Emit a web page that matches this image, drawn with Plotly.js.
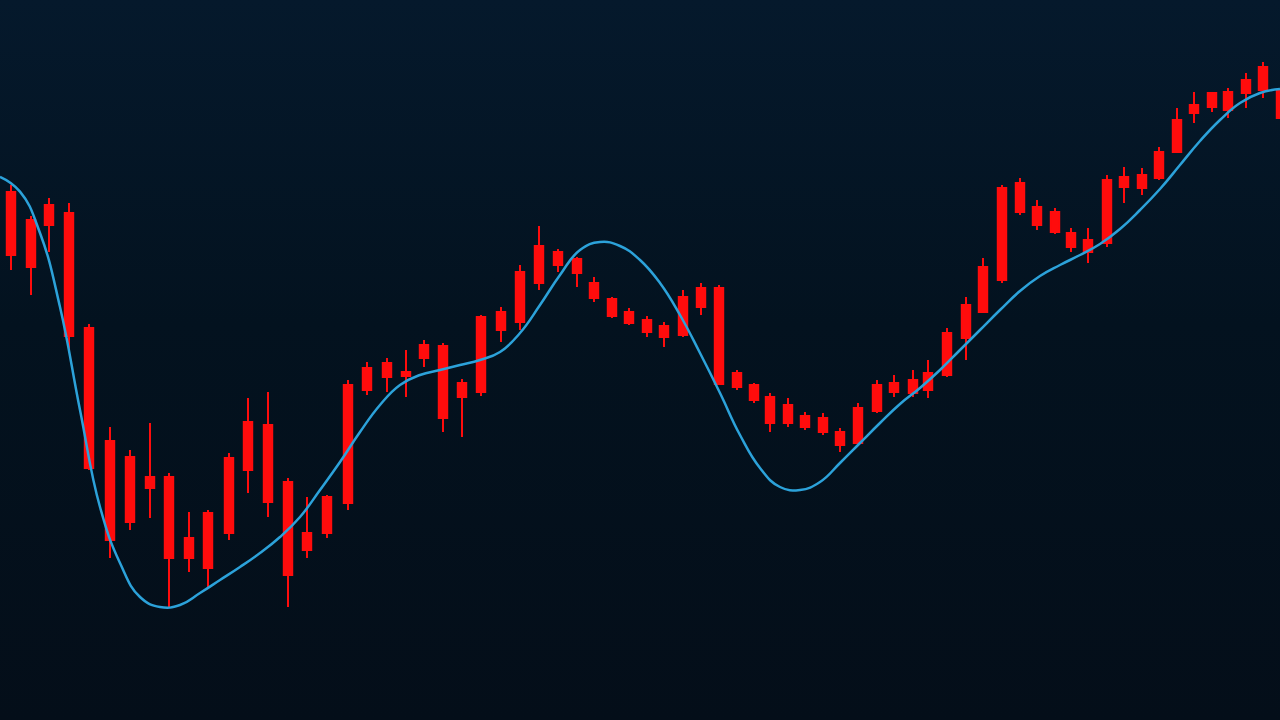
<!DOCTYPE html>
<html>
<head>
<meta charset="utf-8">
<script src="https://cdn.plot.ly/plotly-3.0.1.min.js"></script>
<style>
  html, body { margin: 0; padding: 0; width: 1280px; height: 720px; overflow: hidden;
    background: linear-gradient(180deg, #05192c 0%, #03121f 45%, #040e19 100%); }
  #chart { width: 1280px; height: 720px; }
</style>
</head>
<body>
<div id="chart"></div>
<script>
// Session times
const sessions = [0.55, 1.55, 2.45, 3.45, 4.45, 5.5, 6.5, 7.5, 8.45, 9.45,
  10.4, 11.45, 12.4, 13.4, 14.4, 15.35, 16.35, 17.4, 18.35, 19.35,
  20.3, 21.2, 22.15, 23.1, 24.05, 25.05, 26.0, 26.95, 27.9, 28.85,
  29.7, 30.6, 31.45, 32.35, 33.2, 34.15, 35.05, 35.95, 36.85, 37.7,
  38.5, 39.4, 40.25, 41.15, 42.0, 42.9, 43.85, 44.7, 45.65, 46.4,
  47.35, 48.3, 49.15, 50.1, 51.0, 51.85, 52.75, 53.55, 54.4, 55.35,
  56.2, 57.1, 57.95, 58.85, 59.7, 60.6, 61.4, 62.3, 63.15, 64.05];

const highs = [133.75, 126, 130.5, 129.25, 99, 73.25, 67.5, 74.25, 61.75, 52,
  52.5, 66.75, 80.5, 82, 60.5, 55.75, 56.25, 85, 89.5, 90.5,
  92.5, 95, 94.25, 85.25, 101.25, 103.25, 113.75, 123.5, 117.75, 115.75,
  110.75, 105.75, 103, 101, 99.5, 107.5, 109.25, 108.75, 87.5, 84.25,
  81.75, 80.5, 77, 76.75, 73, 79.25, 85, 86.25, 87.5, 90,
  98, 105.75, 115.5, 133.75, 135.5, 130, 128, 123, 123, 136.25,
  138.25, 138, 143.25, 153, 157, 157, 158, 161.75, 164.5, 158];

const opens = [132, 125, 128.75, 126.75, 98, 69.75, 65.75, 60.75, 60.75, 45.5,
  51.75, 65.5, 74.5, 73.75, 59.5, 46.75, 55.75, 83.75, 88, 89.25,
  87, 93.75, 93.5, 84.25, 100.75, 102, 112, 118.5, 117, 115.25,
  109.25, 105.25, 102, 100, 98.5, 105.75, 108, 108, 86.75, 83.75,
  80.75, 78.75, 76, 75.5, 72, 78, 83.75, 84.25, 85, 86.75,
  96.75, 103.75, 113.25, 133, 134.25, 128.25, 127, 121.75, 120, 135,
  135.75, 136.25, 142, 150, 153.75, 156.75, 157, 160, 163.25, 157.5];

const closes = [116.25, 113.25, 123.75, 96, 63, 45, 49.5, 58, 40.5, 40.5,
  38, 46.75, 62.5, 54.5, 36.25, 42.5, 46.75, 54.25, 82.5, 85.75,
  86, 90.5, 75.5, 80.75, 82, 97.5, 99.5, 109.25, 113.75, 111.75,
  105.5, 101, 99.25, 97, 95.75, 96.25, 103.25, 84, 83.25, 80,
  74.25, 74.25, 73.25, 72, 68.75, 69.25, 77.25, 82, 81.75, 82.5,
  86.25, 95.5, 102, 110, 127, 123.75, 122, 118.25, 117, 119.25,
  133.25, 133, 135.5, 142, 151.75, 153.25, 152.5, 156.75, 157.5, 150.5];

const lows = [112.5, 106.25, 117, 92.5, 62.5, 40.5, 47.5, 50.5, 28.25, 37,
  33.25, 45, 56.75, 50.75, 28.25, 40.5, 45.5, 52.5, 81.25, 82,
  80.75, 88.25, 72, 70.75, 81, 94.5, 97.5, 107.5, 112, 108.25,
  104.5, 100.5, 98.75, 95.75, 93.25, 95.75, 101.25, 83.75, 82.5, 79.25,
  72, 73.25, 72.5, 71.25, 67, 68.75, 76.75, 80.75, 80.75, 80.5,
  85.75, 90, 101.75, 109.25, 126.25, 122.5, 121.5, 117, 114.25, 118.25,
  129.25, 131.25, 135, 141.75, 149.25, 152, 150.5, 153, 155.5, 150];

// Smoothed trend line (moving-average style curve)
const trendX = [0, 1, 2, 3, 4, 5, 6, 7, 8, 9,
  10, 11, 12, 13, 14, 15, 16, 17, 18, 19,
  20, 21, 22, 23, 24, 25, 26, 27, 28, 29,
  30, 31, 32, 33, 34, 35, 36, 37, 38, 39,
  40, 41, 42, 43, 44, 45, 46, 47, 48, 49,
  50, 51, 52, 53, 54, 55, 56, 57, 58, 59,
  60, 61, 62, 63, 64];
const trendY = [135.8, 132.1, 121.75, 103.25, 77.5, 53.25, 39.25, 30.75, 28.25, 28.75,
  31.75, 35, 38.25, 41.75, 45.75, 50.75, 57.5, 64.5, 72, 78.75,
  83.75, 86.25, 87.5, 88.75, 90, 92, 96.75, 103.75, 111.25, 117.5,
  119.5, 118.5, 115, 109.25, 101.25, 91.75, 81.75, 71.25, 63, 58.25,
  57.5, 59.5, 64.25, 69.25, 74.25, 79, 83, 87.5, 92.5, 97.5,
  102.5, 107.25, 111, 113.75, 116.25, 119, 122.75, 127.5, 132.75, 138.75,
  144.75, 150, 154.25, 156.75, 157.75];

const red = '#ff0c0c';

const traces = [
  {
    type: 'candlestick',
    x: sessions, open: opens, high: highs, low: lows, close: closes,
    increasing: { line: { color: red, width: 2 }, fillcolor: red },
    decreasing: { line: { color: red, width: 2 }, fillcolor: red },
    whiskerwidth: 0,
    hoverinfo: 'skip'
  },
  {
    type: 'scatter', mode: 'lines',
    x: trendX, y: trendY,
    line: { color: '#2ca2da', width: 2.5, shape: 'spline', smoothing: 1.3 },
    hoverinfo: 'skip'
  }
];

const layout = {
  width: 1280, height: 720,
  margin: { l: 0, r: 0, t: 0, b: 0 },
  paper_bgcolor: 'rgba(0,0,0,0)',
  plot_bgcolor: 'rgba(0,0,0,0)',
  showlegend: false,
  boxgap: 0.25, boxgroupgap: 0.25,
  xaxis: { range: [0, 64], visible: false, fixedrange: true, rangeslider: { visible: false } },
  yaxis: { range: [0, 180], visible: false, fixedrange: true }
};

Plotly.newPlot('chart', traces, layout, { displayModeBar: false, staticPlot: true });
</script>
</body>
</html>
